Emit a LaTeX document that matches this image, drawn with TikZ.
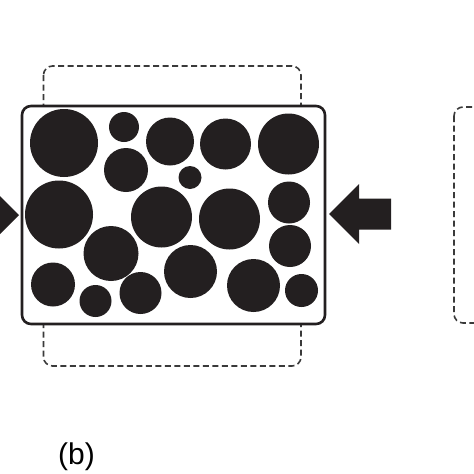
\documentclass[tikz,border=0pt]{standalone}
\usepackage{fontspec}
\setmainfont{Liberation Sans}
\definecolor{ink}{HTML}{231F20}
\definecolor{dashgray}{HTML}{3A3A3A}
\tikzset{
  dashbox/.style={draw=dashgray, line width=1.6pt, dash pattern=on 6pt off 3.5pt, rounded corners=9pt},
  mainbox/.style={draw=ink, fill=white, line width=2.6pt, rounded corners=9pt},
  ball/.style={fill=ink},
  bigarrow/.style={fill=ink}
}
\begin{document}
\begin{tikzpicture}[x=1pt,y=-1pt]
\useasboundingbox (0,0) rectangle (474,474);
\clip (0,0) rectangle (474,474);
% dashed boxes
\draw[dashbox] (43.5,66) rectangle (301,366);
\draw[dashbox] (454,107) rectangle (495,323);
% main box
\draw[mainbox] (22,106) rectangle (325,324);
% balls
\foreach \x/\y/\r in {
  64/143/34, 124/127/15, 170/141.5/24, 225.5/144/25.5, 288.5/144/30.5,
  126/170/22, 190/177.5/11.5,
  59/214.5/34, 161.5/217/30.5, 229.5/219/30.5, 289/202.5/21, 290/246/21,
  111/253.5/27.5, 53/284.5/22, 95.5/301/16, 140.5/293/21, 190.5/271.5/26.5,
  253.5/285.5/26.5, 301.5/290.5/16.5}
  {\fill[ball] (\x,\y) circle (\r);}
% arrows
\fill[bigarrow] (329,214) -- (359,184) -- (359,198.5) -- (391,198.5) -- (391,229.5) -- (359,229.5) -- (359,244) -- cycle;
\fill[bigarrow] (19,215) -- (-11,185) -- (-11,199.5) -- (-43,199.5) -- (-43,230.5) -- (-11,230.5) -- (-11,245) -- cycle;
% label
\node[anchor=base west, inner sep=0pt, font=\fontsize{30}{36}\selectfont] (lbl) at (58,464) {(b)};
\end{tikzpicture}
\end{document}
